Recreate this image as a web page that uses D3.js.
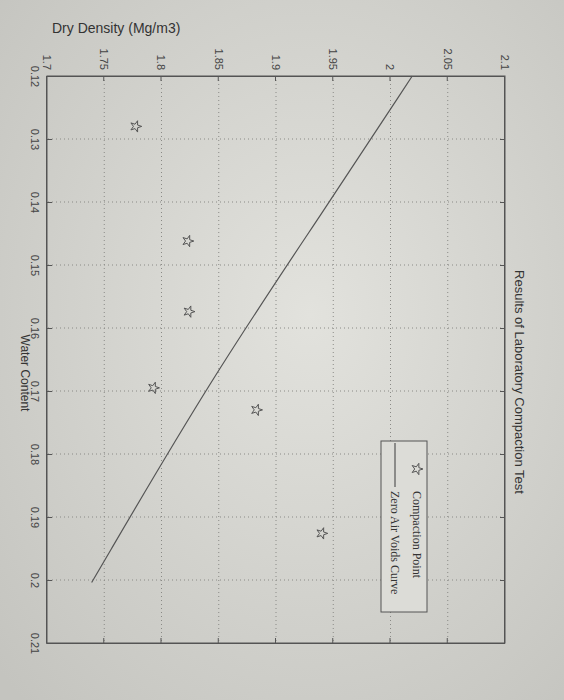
<!DOCTYPE html>
<html><head><meta charset="utf-8">
<script src="https://cdn.jsdelivr.net/npm/d3@7"></script>
<style>body{margin:0;background:#d6d6d1;}svg{display:block;}</style>
</head><body>
<svg id="c" width="564" height="700"></svg>
<script>
const waterTicks=[0.12,0.13,0.14,0.15,0.16,0.17,0.18,0.19,0.2,0.21];
const densTicks=[1.7,1.75,1.8,1.85,1.9,1.95,2,2.05,2.1];
const compWater=[0.128,0.1462,0.1574,0.1695,0.173,0.1926];
const compDens=[1.7775,1.823,1.824,1.793,1.883,1.94];
const zavWater=[0.12,0.1413,0.1675,0.2004];
const zavDens=[2.019,1.942,1.845,1.739];

const svg=d3.select("#c");
const defs=svg.append("defs");
const gr=defs.append("radialGradient").attr("id","bg").attr("cx","55%").attr("cy","45%").attr("r","75%");
gr.append("stop").attr("offset","0%").attr("stop-color","#e2e2dd");
gr.append("stop").attr("offset","100%").attr("stop-color","#c4c4bf");
svg.append("rect").attr("width",564).attr("height",700).attr("fill","url(#bg)");

const tx=505, ty=76, Wp=567, Hp=458;
const g=svg.append("g").attr("transform",`translate(${tx},${ty}) rotate(90)`);
const x=d3.scaleLinear().domain([0.12,0.21]).range([0,Wp]);
const y=d3.scaleLinear().domain([1.7,2.1]).range([Hp,0]);

g.append("g").selectAll("line").data(waterTicks.slice(1,-1)).join("line")
 .attr("x1",d=>x(d)).attr("x2",d=>x(d)).attr("y1",0).attr("y2",Hp)
 .attr("stroke","#8a8a86").attr("stroke-dasharray","1,3").attr("stroke-width",1);
g.append("g").selectAll("line").data(densTicks.slice(1,-1)).join("line")
 .attr("y1",d=>y(d)).attr("y2",d=>y(d)).attr("x1",0).attr("x2",Wp)
 .attr("stroke","#8a8a86").attr("stroke-dasharray","1,3").attr("stroke-width",1);

const fmt=d=>String(+d.toFixed(2));
const axB=g.append("g").attr("transform",`translate(0,${Hp})`).call(d3.axisBottom(x).tickValues(waterTicks).tickFormat(fmt).tickSizeInner(-5).tickSizeOuter(0).tickPadding(8));
const axT=g.append("g").call(d3.axisTop(x).tickValues(waterTicks).tickFormat("").tickSizeInner(-5).tickSizeOuter(0));
const axL=g.append("g").call(d3.axisLeft(y).tickValues(densTicks).tickFormat(fmt).tickSizeInner(-5).tickSizeOuter(0).tickPadding(6));
const axR=g.append("g").attr("transform",`translate(${Wp},0)`).call(d3.axisRight(y).tickValues(densTicks).tickFormat("").tickSizeInner(-5).tickSizeOuter(0));
[axB,axT,axL,axR].forEach(a=>{a.selectAll("path,line").attr("stroke","#555");a.selectAll("text").attr("fill","#444").style("font-family","Liberation Sans, Arial").style("font-size","11px");});
g.append("rect").attr("width",Wp).attr("height",Hp).attr("fill","none").attr("stroke","#555");

g.append("path").datum(zavWater.map((w,i)=>[w,zavDens[i]]))
 .attr("d",d3.line().x(d=>x(d[0])).y(d=>y(d[1])).curve(d3.curveBasis))
 .attr("fill","none").attr("stroke","#555").attr("stroke-width",1.2);

const star=d3.symbol().type(d3.symbolStar).size(40);
g.append("g").selectAll("path").data(compWater.map((w,i)=>[w,compDens[i]])).join("path")
 .attr("d",star).attr("transform",d=>`translate(${x(d[0])},${y(d[1])})`)
 .attr("fill","none").attr("stroke","#555").attr("stroke-width",1);

g.append("text").attr("x",306).attr("y",-10).attr("text-anchor","middle")
 .style("font-family","Liberation Sans, Arial").style("font-size","13px").attr("fill","#333")
 .text("Results of Laboratory Compaction Test");
g.append("text").attr("x",297).attr("y",Hp+26).attr("text-anchor","middle")
 .style("font-family","Liberation Sans, Arial").style("font-size","12px").attr("fill","#333")
 .text("Water Content");
g.append("text").attr("transform",`translate(-43,${Hp-5}) rotate(-90)`).attr("text-anchor","start")
 .style("font-family","Liberation Sans, Arial").style("font-size","14px").attr("fill","#333")
 .text("Dry Density (Mg/m3)");

const lg=g.append("g").attr("transform","translate(365,78)");
lg.append("rect").attr("width",171).attr("height",46).attr("fill","#dcdcd7").attr("stroke","#555");
lg.append("path").attr("d",star).attr("transform","translate(28,10)").attr("fill","none").attr("stroke","#555");
lg.append("line").attr("x1",2).attr("x2",46).attr("y1",32).attr("y2",32).attr("stroke","#555").attr("stroke-width",1.2);
lg.append("text").attr("x",50).attr("y",14).text("Compaction Point")
 .style("font-family","Liberation Serif, Times").style("font-size","12px").attr("fill","#333");
lg.append("text").attr("x",50).attr("y",36).text("Zero Air Voids Curve")
 .style("font-family","Liberation Serif, Times").style("font-size","12px").attr("fill","#333");
</script>
</body></html>
